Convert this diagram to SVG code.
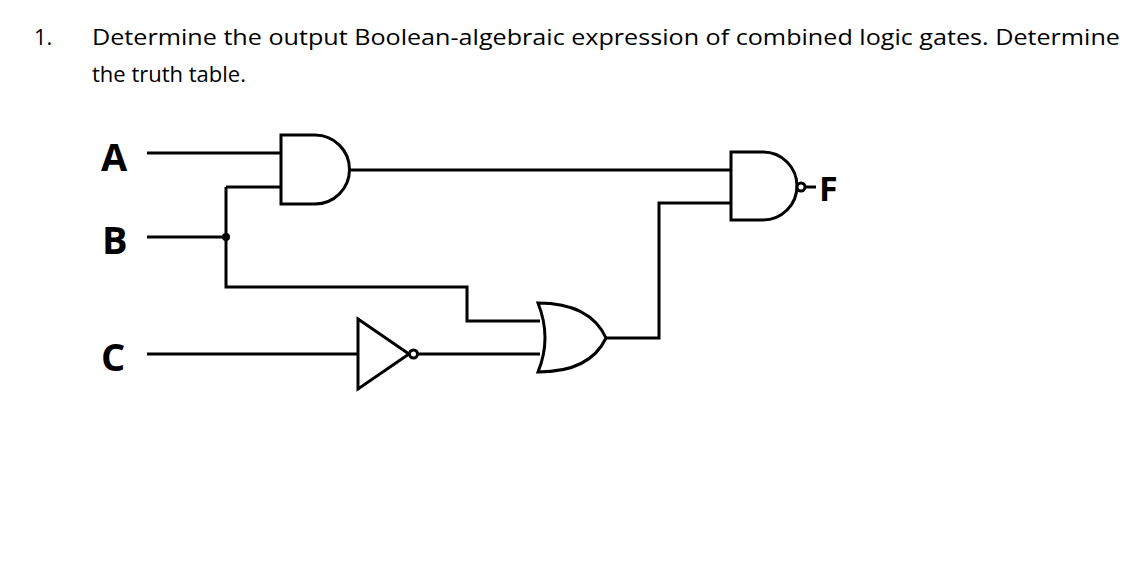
<svg xmlns="http://www.w3.org/2000/svg" width="1148" height="578" viewBox="0 0 1148 578">
<style>
.t{font-family:"Open Sans","Liberation Sans",sans-serif;font-size:22px;fill:#000}
.l{font-family:"Open Sans","Liberation Sans",sans-serif;font-size:38px;font-weight:bold;fill:#000}
.w{fill:none;stroke:#000;stroke-width:3;stroke-linejoin:miter}
.g{fill:#fff;stroke:#000;stroke-width:3}
</style>
<rect width="1148" height="578" fill="#fff"/>
<text class="t" x="34" y="45">1.</text>
<text class="t" x="92" y="45" textLength="1028" lengthAdjust="spacingAndGlyphs">Determine the output Boolean-algebraic expression of combined logic gates. Determine</text>
<text class="t" x="92" y="82">the truth table.</text>
<text class="l" x="101" y="171">A</text>
<text class="l" x="102" y="254">B</text>
<text class="l" x="101" y="371">C</text>
<text class="l" x="819" y="201" style="font-size:34px">F</text>
<g id="wires">
<path class="w" d="M147 153H281 M226 187H281 M147 237H226 M226 187V287H467V321H540 M147 354H358 M418 354H540 M349 170H731 M606 338H659V203H731 M805 187H816"/>
<circle cx="226" cy="237" r="4" fill="#000"/>
</g>
<g id="and1"><path class="g" d="M281 135H315A34.5 34.5 0 0 1 315 204H281Z"/></g>
<g id="or1"><path class="g" d="M538 303Q590 303 606 338Q590 372 538 372Q552 338 538 303Z"/></g>
<g id="not1"><path class="g" d="M358 319L409 354L358 389Z"/><circle class="g" cx="413.5" cy="354" r="4" stroke-width="2"/></g>
<g id="nand1"><path class="g" d="M731 152H763A34 34 0 0 1 763 220H731Z"/><circle class="g" cx="801" cy="187" r="4" stroke-width="2"/></g>
</svg>
